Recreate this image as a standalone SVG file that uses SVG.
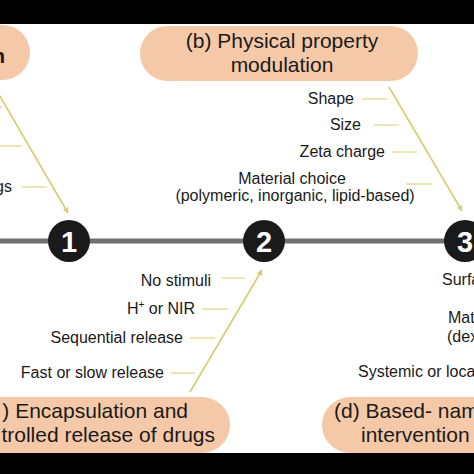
<svg xmlns="http://www.w3.org/2000/svg" width="474" height="474" viewBox="0 0 474 474">
<style>
.pill{fill:#f5c9a8}
.pt{font-family:"Liberation Sans",Arial,sans-serif;font-size:21px;fill:#1a1a1a}
.lb{font-family:"Liberation Sans",Arial,sans-serif;font-size:16px;fill:#1a1a1a}
.num{font-family:"Liberation Sans",Arial,sans-serif;font-size:29px;font-weight:bold;fill:#ffffff;text-anchor:middle}
.diag{stroke:#d6cc72;stroke-width:1.6;fill:none}
.tick{stroke:#e2d890;stroke-width:1.3;fill:none}
</style>
<defs>
<marker id="ah" viewBox="0 0 10 10" refX="9" refY="5" markerWidth="6" markerHeight="6" orient="auto" markerUnits="userSpaceOnUse">
<path d="M0,0 L10,5 L0,10 z" fill="#d6cc72"/>
</marker>
</defs>
<rect x="0" y="0" width="474" height="474" fill="#ffffff"/>
<rect x="0" y="0" width="474" height="24" fill="#000000"/>
<rect x="0" y="453" width="474" height="21" fill="#000000"/>

<g id="spine">
<line x1="0" y1="241" x2="474" y2="241" stroke="#707070" stroke-width="5"/>
</g>

<g id="node-a">
<rect class="pill" x="-120" y="25" width="150" height="55" rx="27.5"/>
<text class="pt" x="5" y="63" text-anchor="end" font-weight="bold">n</text>
</g>
<g id="node-b">
<rect class="pill" x="140" y="26" width="278" height="55" rx="27.5"/>
<text class="pt" x="282" y="48" text-anchor="middle">(b) Physical property</text>
<text class="pt" x="282" y="72" text-anchor="middle">modulation</text>
</g>
<g id="node-c">
<rect class="pill" x="-100" y="397" width="330" height="56" rx="28"/>
<text class="pt" x="188" y="418" text-anchor="end">) Encapsulation and</text>
<text class="pt" x="215" y="442" text-anchor="end">trolled release of drugs</text>
</g>
<g id="node-d">
<rect class="pill" x="322" y="397" width="250" height="56" rx="28"/>
<text class="pt" x="334" y="418">(d) Based- nam</text>
<text class="pt" x="361" y="442">intervention</text>
</g>

<g id="circle-1"><circle cx="69" cy="241" r="21" fill="#1a1a1a"/><text class="num" x="69" y="251.5">1</text></g>
<g id="circle-2"><circle cx="264" cy="241" r="21" fill="#1a1a1a"/><text class="num" x="264" y="251.5">2</text></g>
<g id="circle-3"><circle cx="465" cy="241" r="21" fill="#1a1a1a"/><text class="num" x="465" y="251.5">3</text></g>

<g id="labels">
<text class="lb" x="12" y="192" text-anchor="end">gs</text>
<text class="lb" x="354" y="104" text-anchor="end">Shape</text>
<text class="lb" x="361" y="130" text-anchor="end">Size</text>
<text class="lb" x="385" y="157" text-anchor="end">Zeta charge</text>
<text class="lb" x="292" y="184" text-anchor="middle">Material choice</text>
<text class="lb" x="295" y="201" text-anchor="middle">(polymeric, inorganic, lipid-based)</text>
<text class="lb" x="211" y="286" text-anchor="end">No stimuli</text>
<text class="lb" x="195" y="314" text-anchor="end">H<tspan font-size="10" dy="-6">+</tspan><tspan dy="6"> or NIR</tspan></text>
<text class="lb" x="183" y="343" text-anchor="end">Sequential release</text>
<text class="lb" x="164" y="378" text-anchor="end">Fast or slow release</text>
<text class="lb" x="442" y="285">Surfa</text>
<text class="lb" x="448" y="323">Mat</text>
<text class="lb" x="447" y="342">(dex</text>
<text class="lb" x="358" y="377">Systemic or loca</text>
</g>

<g id="connectors">
<line class="diag" x1="-6" y1="86" x2="68" y2="213" marker-end="url(#ah)"/>
<line class="diag" x1="389" y1="87" x2="462" y2="211" marker-end="url(#ah)"/>
<line class="diag" x1="190" y1="392" x2="262" y2="270" marker-end="url(#ah)"/>
<line class="tick" x1="-4" y1="107" x2="2" y2="107"/>
<line class="tick" x1="0" y1="146" x2="22" y2="146"/>
<line class="tick" x1="22" y1="187" x2="47" y2="187"/>
<line class="tick" x1="362" y1="99" x2="387" y2="99"/>
<line class="tick" x1="374" y1="125" x2="399" y2="125"/>
<line class="tick" x1="392" y1="152" x2="417" y2="152"/>
<line class="tick" x1="406" y1="184" x2="432" y2="184"/>
<line class="tick" x1="222" y1="278" x2="245" y2="278"/>
<line class="tick" x1="202" y1="309" x2="228" y2="309"/>
<line class="tick" x1="190" y1="338" x2="215" y2="338"/>
<line class="tick" x1="171" y1="373" x2="195" y2="373"/>
</g>
</svg>
